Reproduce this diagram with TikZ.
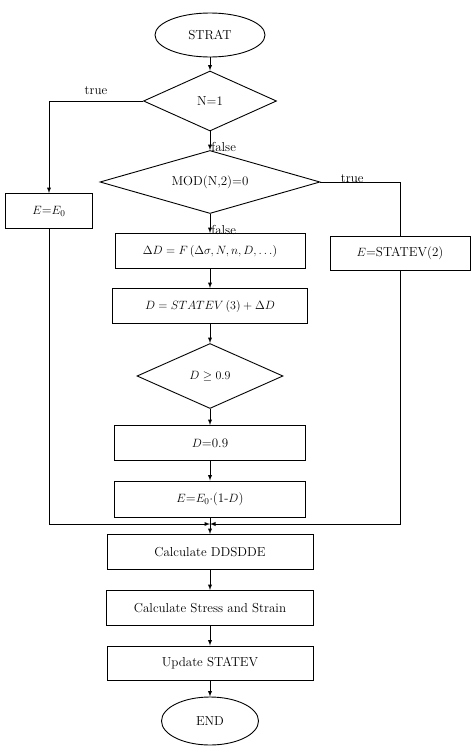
\documentclass[tikz,border=0pt]{standalone}
\usepackage{tikz}
\usetikzlibrary{shapes.geometric}
\begin{document}
\begin{tikzpicture}[x=1pt,y=-1pt,font=\fontsize{13}{15}\selectfont,line width=0.9pt,
    box/.style={draw,rectangle,minimum height=35pt,inner sep=2pt},
    term/.style={draw,ellipse,inner sep=0pt},
    test/.style={draw,diamond,inner sep=0pt,aspect=3},
    lbl/.style={inner sep=1pt}]
    \useasboundingbox (0,0) rectangle (474,750);
    \node[term,minimum width=110pt,minimum height=44pt] (start) at (210,35) {STRAT};
    \node[test,minimum width=133pt,minimum height=60pt] (n1) at (210,101) {N=1};
    \node[test,minimum width=220pt,minimum height=63pt] (mod) at (210,182) {MOD(N,2)=0};
    \node[box,minimum width=87pt] (e0) at (49,211) {$E$=$E_0$};
    \node[box,minimum width=140pt,minimum height=34pt] (sv2) at (400,253) {$E$=STATEV(2)};
    \node[box,minimum width=190pt] (dd) at (210,251) {$\Delta D=F\,(\Delta\sigma,N,n,D,\ldots)$};
    \node[box,minimum width=195pt] (dsum) at (210,306) {$D=STATEV\,(3)+\Delta D$};
    \node[test,minimum width=146pt,minimum height=65pt] (dge) at (210,376) {$D\geq 0.9$};
    \node[box,minimum width=191pt] (d09) at (210,443) {$D$=0.9};
    \node[box,minimum width=191pt,minimum height=36pt] (eupd) at (210,499) {$E$=$E_0\cdot$(1-$D$)};
    \coordinate (join) at (210,524);
    \node[box,minimum width=206pt] (ddsdde) at (210,552) {Calculate DDSDDE};
    \node[box,minimum width=207pt] (stress) at (210,608) {Calculate Stress and Strain};
    \node[box,minimum width=206pt,minimum height=34pt] (upd) at (210,663) {Update STATEV};
    \node[term,minimum width=97pt,minimum height=48pt] (finish) at (210,721) {END};
    \draw[-latex] (start) -- (n1);
    \draw[-latex] (n1.west) -| node[lbl,pos=0.25,above,yshift=5pt] (t1) {true} (e0.north);
    \draw[-latex] (n1) -- node[lbl,pos=0.85,right] (f1) {false} (mod);
    \draw (mod.east) -| node[lbl,pos=0.2,yshift=3pt] (t2) {true} (sv2.north);
    \draw[-latex] (mod) -- node[lbl,pos=0.85,right] (f2) {false} (dd);
    \draw[-latex] (dd) -- (dsum);
    \draw[-latex] (dsum) -- (dge);
    \draw[-latex] (dge) -- (d09);
    \draw[-latex] (d09) -- (eupd);
    \draw[-latex] (e0) -- (e0.south |- join) -- (join);
    \draw[-latex] (sv2) -- (sv2.south |- join) -- (join);
    \draw[-latex] (eupd) -- (ddsdde);
    \draw[-latex] (ddsdde) -- (stress);
    \draw[-latex] (stress) -- (upd);
    \draw[-latex] (upd) -- (finish);
\end{tikzpicture}
\end{document}
